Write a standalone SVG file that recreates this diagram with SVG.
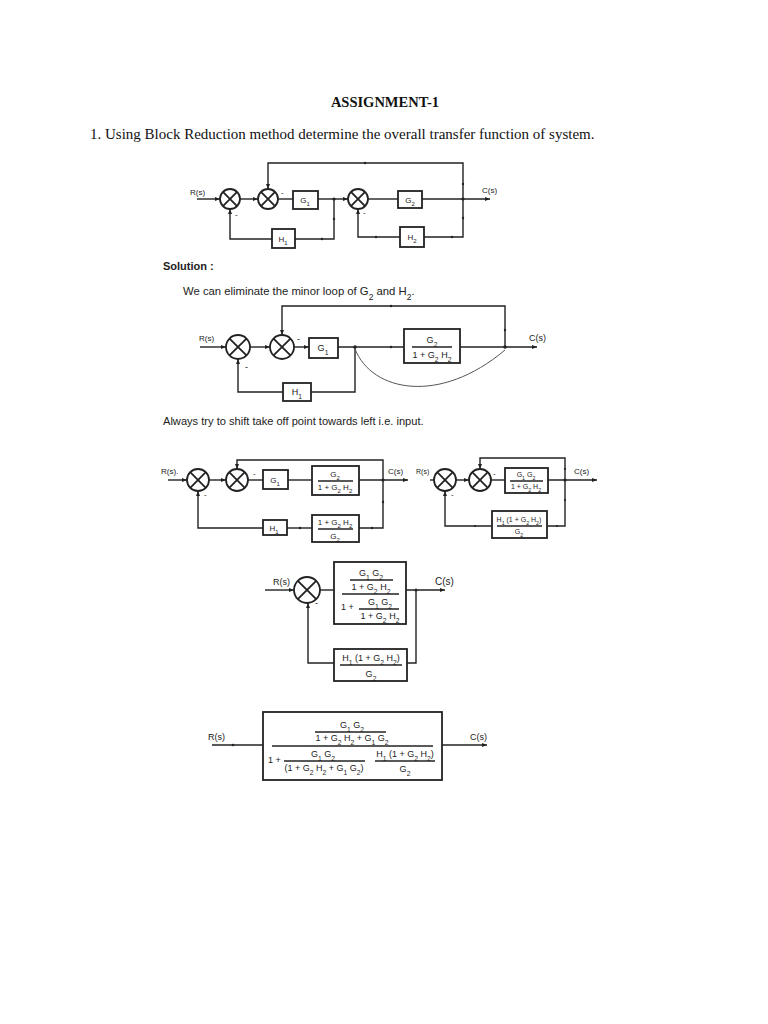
<svg xmlns="http://www.w3.org/2000/svg" width="768" height="1024" viewBox="0 0 768 1024">
<defs>
<marker id="ar" viewBox="0 0 10 10" refX="10" refY="5" markerWidth="5" markerHeight="5" markerUnits="userSpaceOnUse" orient="auto"><path d="M0,1 L10,5 L0,9 z" fill="#222"/></marker>
<g id="sx"><line x1="-0.7071" y1="-0.7071" x2="0.7071" y2="0.7071"/><line x1="-0.7071" y1="0.7071" x2="0.7071" y2="-0.7071"/></g>
</defs>
<style>
.ln{fill:none;stroke:#222;stroke-width:1.4}
.bx{fill:#fff;stroke:#222;stroke-width:1.8}
.sm{fill:#fff;stroke:#222;stroke-width:1.8}
.t{font-family:"Liberation Sans",Arial,sans-serif;fill:#222}
.d1{font-size:8px}
.d2{font-size:9px}
.c{text-anchor:middle}
.sb{font-size:75%;baseline-shift:sub}
.hd{font-family:"Liberation Serif","Times New Roman",serif;fill:#111}
.dot{fill:#222}
</style>
<rect width="768" height="1024" fill="#fff"/>

<g id="header">
<text class="hd" x="385" y="107" font-size="14.5" font-weight="bold" text-anchor="middle">ASSIGNMENT-1</text>
<text class="hd" x="90" y="139" font-size="15">1. Using Block Reduction method determine the overall transfer function of system.</text>
</g>

<!-- Diagram 1 -->
<g id="d1-connectors">
<line class="ln" x1="197" y1="199" x2="220" y2="199" marker-end="url(#ar)"/>
<line class="ln" x1="240" y1="199" x2="258" y2="199" marker-end="url(#ar)"/>
<line class="ln" x1="278" y1="199" x2="293" y2="199"/>
<line class="ln" x1="318" y1="199" x2="348" y2="199" marker-end="url(#ar)"/>
<line class="ln" x1="368" y1="199" x2="398" y2="199"/>
<line class="ln" x1="422" y1="199" x2="490" y2="199" marker-end="url(#ar)"/>
<polyline class="ln" points="463,199 463,163 268,163 268,189" marker-end="url(#ar)"/>
<polyline class="ln" points="334,199 334,239 295,239"/>
<polyline class="ln" points="272,239 230,239 230,209" marker-end="url(#ar)"/>
<polyline class="ln" points="463,199 463,237 424,237"/>
<polyline class="ln" points="400,237 358,237 358,209" marker-end="url(#ar)"/>
<circle class="dot" cx="334" cy="199" r="1.6"/><circle class="dot" cx="463" cy="199" r="1.6"/>
<circle class="dot" cx="365" cy="163" r="1.2"/><circle class="dot" cx="463" cy="184" r="1.2"/><circle class="dot" cx="463" cy="218" r="1.2"/>
<circle class="dot" cx="334" cy="219" r="1.2"/><circle class="dot" cx="322" cy="239" r="1.2"/><circle class="dot" cx="376" cy="237" r="1.2"/><circle class="dot" cx="452" cy="237" r="1.2"/>
</g>
<g id="d1-sum1"><circle class="sm" cx="230" cy="199" r="10"/><use href="#sx" transform="translate(230,199) scale(10)" stroke="#222" stroke-width="0.18"/></g>
<g id="d1-sum2"><circle class="sm" cx="268" cy="199" r="10"/><use href="#sx" transform="translate(268,199) scale(10)" stroke="#222" stroke-width="0.18"/></g>
<g id="d1-sum3"><circle class="sm" cx="358" cy="199" r="10"/><use href="#sx" transform="translate(358,199) scale(10)" stroke="#222" stroke-width="0.18"/></g>
<g id="d1-g1"><rect class="bx" x="293" y="191" width="25" height="18"/><text class="t d1 c" x="305" y="203">G<tspan class="sb">1</tspan></text></g>
<g id="d1-g2"><rect class="bx" x="398" y="191" width="24" height="17"/><text class="t d1 c" x="410" y="203">G<tspan class="sb">2</tspan></text></g>
<g id="d1-h1"><rect class="bx" x="272" y="229" width="23" height="19"/><text class="t d1 c" x="283" y="242">H<tspan class="sb">1</tspan></text></g>
<g id="d1-h2"><rect class="bx" x="400" y="227" width="24" height="20"/><text class="t d1 c" x="412" y="240">H<tspan class="sb">2</tspan></text></g>
<g id="d1-labels">
<text class="t d1" x="190" y="195" font-size="7">R(s)</text>
<text class="t d1" x="482" y="193" font-size="7">C(s)</text>
<text class="t d1" x="281" y="195">-</text>
<text class="t d1" x="235" y="217">-</text>
<text class="t d1" x="363" y="215">-</text>
</g>

<g id="text-solution">
<text class="t" x="163" y="270" font-size="11" font-weight="bold">Solution :</text>
<text class="t" x="183" y="295" font-size="11.3">We can eliminate the minor loop of G<tspan class="sb">2</tspan> and H<tspan class="sb">2</tspan>.</text>
</g>

<!-- Diagram 2 -->
<g id="d2-connectors">
<line class="ln" x1="200" y1="347" x2="226" y2="347" marker-end="url(#ar)"/>
<line class="ln" x1="250" y1="347" x2="270" y2="347" marker-end="url(#ar)"/>
<line class="ln" x1="294" y1="347" x2="309" y2="347" marker-end="url(#ar)"/>
<line class="ln" x1="338" y1="347" x2="404" y2="347"/>
<line class="ln" x1="460" y1="347" x2="537" y2="347" marker-end="url(#ar)"/>
<polyline class="ln" points="505,347 505,306 282,306 282,335" marker-end="url(#ar)"/>
<polyline class="ln" points="355,347 355,392 311,392"/>
<polyline class="ln" points="283,392 238,392 238,359" marker-end="url(#ar)"/>
<path d="M355,349 C372,392 440,405 505,350" fill="none" stroke="#555" stroke-width="1"/>
<circle class="dot" cx="355" cy="347" r="1.8"/><circle class="dot" cx="505" cy="347" r="1.8"/>
<circle class="dot" cx="391" cy="347" r="1.2"/><circle class="dot" cx="391" cy="306" r="1.2"/><circle class="dot" cx="505" cy="330" r="1.2"/>
</g>
<g id="d2-sum1"><circle class="sm" cx="238" cy="347" r="12"/><use href="#sx" transform="translate(238,347) scale(12)" stroke="#222" stroke-width="0.15"/></g>
<g id="d2-sum2"><circle class="sm" cx="282" cy="347" r="12"/><use href="#sx" transform="translate(282,347) scale(12)" stroke="#222" stroke-width="0.15"/></g>
<g id="d2-g1"><rect class="bx" x="309" y="338" width="29" height="20"/><text class="t d2 c" x="323" y="351">G<tspan class="sb">1</tspan></text></g>
<g id="d2-g2"><rect class="bx" x="404" y="329" width="56" height="34"/><text class="t d2 c" x="432" y="343">G<tspan class="sb">2</tspan></text><line class="ln" x1="412" y1="347" x2="452" y2="347" stroke-width="1"/><text class="t d2 c" x="432" y="358">1 + G<tspan class="sb">2</tspan> H<tspan class="sb">2</tspan></text></g>
<g id="d2-h1"><rect class="bx" x="283" y="383" width="28" height="18"/><text class="t d2 c" x="297" y="395">H<tspan class="sb">1</tspan></text></g>
<g id="d2-labels">
<text class="t" x="199" y="341" font-size="8">R(s)</text>
<text class="t" x="529" y="341" font-size="9">C(s)</text>
<text class="t d2" x="297" y="342">-</text>
<text class="t d2" x="245" y="370">-</text>
</g>

<g id="text-always"><text class="t" x="163" y="425" font-size="11.1">Always try to shift take off point towards left i.e. input.</text></g>

<!-- Diagram 3 left -->
<g id="d3l-connectors">
<line class="ln" x1="168" y1="480" x2="187" y2="480" marker-end="url(#ar)"/>
<line class="ln" x1="209" y1="480" x2="226" y2="480" marker-end="url(#ar)"/>
<line class="ln" x1="248" y1="480" x2="263" y2="480"/>
<line class="ln" x1="288" y1="480" x2="312" y2="480"/>
<line class="ln" x1="359" y1="480" x2="408" y2="480" marker-end="url(#ar)"/>
<polyline class="ln" points="383,480 383,460 237,460 237,469" marker-end="url(#ar)"/>
<polyline class="ln" points="383,480 383,528 359,528"/>
<line class="ln" x1="312" y1="528" x2="287" y2="528"/>
<polyline class="ln" points="263,528 198,528 198,491" marker-end="url(#ar)"/>
<circle class="dot" cx="383" cy="480" r="1.6"/><circle class="dot" cx="383" cy="502" r="1.2"/><circle class="dot" cx="372" cy="528" r="1.2"/><circle class="dot" cx="300" cy="528" r="1.2"/>
</g>
<g id="d3l-sum1"><circle class="sm" cx="198" cy="480" r="11"/><use href="#sx" transform="translate(198,480) scale(11)" stroke="#222" stroke-width="0.16"/></g>
<g id="d3l-sum2"><circle class="sm" cx="237" cy="480" r="11"/><use href="#sx" transform="translate(237,480) scale(11)" stroke="#222" stroke-width="0.16"/></g>
<g id="d3l-g1"><rect class="bx" x="263" y="470" width="25" height="19"/><text class="t d1 c" x="275" y="483">G<tspan class="sb">1</tspan></text></g>
<g id="d3l-g2"><rect class="bx" x="312" y="466" width="47" height="29"/><text class="t d1 c" x="335" y="477">G<tspan class="sb">2</tspan></text><line class="ln" x1="318" y1="481" x2="353" y2="481" stroke-width="0.9"/><text class="t d1 c" x="335" y="490">1 + G<tspan class="sb">2</tspan> H<tspan class="sb">2</tspan></text></g>
<g id="d3l-fb"><rect class="bx" x="312" y="515" width="47" height="27"/><text class="t d1 c" x="335" y="525">1 + G<tspan class="sb">2</tspan> H<tspan class="sb">2</tspan></text><line class="ln" x1="318" y1="529" x2="353" y2="529" stroke-width="0.9"/><text class="t d1 c" x="335" y="539">G<tspan class="sb">2</tspan></text></g>
<g id="d3l-h1"><rect class="bx" x="263" y="520" width="24" height="15"/><text class="t d1 c" x="274" y="531">H<tspan class="sb">1</tspan></text></g>
<g id="d3l-labels">
<text class="t d1" x="161" y="474">R(s).</text>
<text class="t d1" x="388" y="474">C(s)</text>
<text class="t d1" x="253" y="476">-</text>
<text class="t d1" x="204" y="497">-</text>
</g>

<!-- Diagram 3 right -->
<g id="d3r-connectors">
<line class="ln" x1="430" y1="480" x2="434" y2="480"/>
<line class="ln" x1="456" y1="480" x2="469" y2="480" marker-end="url(#ar)"/>
<line class="ln" x1="491" y1="480" x2="505" y2="480"/>
<line class="ln" x1="548" y1="480" x2="597" y2="480" marker-end="url(#ar)"/>
<polyline class="ln" points="565,480 565,458 480,458 480,469" marker-end="url(#ar)"/>
<polyline class="ln" points="565,480 565,526 547,526"/>
<polyline class="ln" points="492,526 445,526 445,491" marker-end="url(#ar)"/>
<circle class="dot" cx="565" cy="480" r="1.6"/><circle class="dot" cx="565" cy="469" r="1.1"/><circle class="dot" cx="565" cy="500" r="1.1"/><circle class="dot" cx="557" cy="526" r="1.1"/><circle class="dot" cx="475" cy="526" r="1.1"/>
</g>
<g id="d3r-sum1"><circle class="sm" cx="445" cy="480" r="11"/><use href="#sx" transform="translate(445,480) scale(11)" stroke="#222" stroke-width="0.16"/></g>
<g id="d3r-sum2"><circle class="sm" cx="480" cy="480" r="11"/><use href="#sx" transform="translate(480,480) scale(11)" stroke="#222" stroke-width="0.16"/></g>
<g id="d3r-g"><rect class="bx" x="505" y="468" width="43" height="25"/><text class="t c" font-size="7" x="526" y="477">G<tspan class="sb">1</tspan> G<tspan class="sb">2</tspan></text><line class="ln" x1="510" y1="481" x2="543" y2="481" stroke-width="0.9"/><text class="t c" font-size="7" x="526" y="489">1 + G<tspan class="sb">2</tspan> H<tspan class="sb">2</tspan></text></g>
<g id="d3r-fb"><rect class="bx" x="492" y="511" width="55" height="27"/><text class="t c" font-size="7" x="519" y="522">H<tspan class="sb">1</tspan> (1 + G<tspan class="sb">2</tspan> H<tspan class="sb">2</tspan>)</text><line class="ln" x1="497" y1="526" x2="542" y2="526" stroke-width="0.9"/><text class="t c" font-size="7" x="519" y="534">G<tspan class="sb">2</tspan></text></g>
<g id="d3r-labels">
<text class="t" font-size="7" x="416" y="474">R(s)</text>
<text class="t d1" x="574" y="474">C(s)</text>
<text class="t d1" x="493" y="476">-</text>
<text class="t d1" x="451" y="497">-</text>
</g>

<!-- Diagram 4 -->
<g id="d4-connectors">
<line class="ln" x1="265" y1="590" x2="294" y2="590" marker-end="url(#ar)"/>
<line class="ln" x1="320" y1="590" x2="334" y2="590"/>
<line class="ln" x1="406" y1="590" x2="445" y2="590" marker-end="url(#ar)"/>
<polyline class="ln" points="416,590 416,663 407,663"/>
<polyline class="ln" points="334,663 308,663 308,603" marker-end="url(#ar)"/>
<circle class="dot" cx="416" cy="590" r="1.5"/>
</g>
<g id="d4-sum"><circle class="sm" cx="307" cy="590" r="13"/><use href="#sx" transform="translate(307,590) scale(13)" stroke="#222" stroke-width="0.14"/></g>
<g id="d4-g"><rect class="bx" x="334" y="562" width="72" height="62"/>
<text class="t d2 c" x="371" y="576">G<tspan class="sb">1</tspan> G<tspan class="sb">2</tspan></text>
<line class="ln" x1="350" y1="580" x2="393" y2="580" stroke-width="1"/>
<text class="t d2 c" x="371" y="590">1 + G<tspan class="sb">2</tspan> H<tspan class="sb">2</tspan></text>
<line class="ln" x1="342" y1="594" x2="399" y2="594" stroke-width="1.2"/>
<text class="t d2" x="341" y="610">1 +</text>
<text class="t d2 c" x="380" y="605">G<tspan class="sb">1</tspan> G<tspan class="sb">2</tspan></text>
<line class="ln" x1="359" y1="609" x2="399" y2="609" stroke-width="1"/>
<text class="t d2 c" x="380" y="619">1 + G<tspan class="sb">2</tspan> H<tspan class="sb">2</tspan></text>
</g>
<g id="d4-fb"><rect class="bx" x="334" y="649" width="73" height="32"/><text class="t d2 c" x="371" y="661">H<tspan class="sb">1</tspan> (1 + G<tspan class="sb">2</tspan> H<tspan class="sb">2</tspan>)</text><line class="ln" x1="340" y1="665" x2="402" y2="665" stroke-width="1"/><text class="t d2 c" x="371" y="677">G<tspan class="sb">2</tspan></text></g>
<g id="d4-labels">
<text class="t" font-size="9" x="273" y="585">R(s)</text>
<text class="t" font-size="10" x="435" y="585">C(s)</text>
<text class="t d2" x="315" y="606">-</text>
</g>

<!-- Diagram 5 -->
<g id="d5-connectors">
<line class="ln" x1="212" y1="745" x2="263" y2="745"/>
<circle class="dot" cx="233" cy="745" r="1.3"/>
<line class="ln" x1="442" y1="745" x2="487" y2="745" marker-end="url(#ar)"/>
</g>
<g id="d5-box"><rect class="bx" x="263" y="712" width="179" height="68"/>
<text class="t d2 c" x="352" y="728">G<tspan class="sb">1</tspan> G<tspan class="sb">2</tspan></text>
<line class="ln" x1="315" y1="732" x2="386" y2="732" stroke-width="1"/>
<text class="t d2 c" x="352" y="741">1 + G<tspan class="sb">2</tspan> H<tspan class="sb">2</tspan> + G<tspan class="sb">1</tspan> G<tspan class="sb">2</tspan></text>
<line class="ln" x1="272" y1="746" x2="433" y2="746" stroke-width="1.2"/>
<text class="t d2" x="268" y="763">1 +</text>
<text class="t d2 c" x="323" y="757">G<tspan class="sb">1</tspan> G<tspan class="sb">2</tspan></text>
<line class="ln" x1="284" y1="761" x2="365" y2="761" stroke-width="1"/>
<text class="t d2 c" x="324" y="771">(1 + G<tspan class="sb">2</tspan> H<tspan class="sb">2</tspan> + G<tspan class="sb">1</tspan> G<tspan class="sb">2</tspan>)</text>
<text class="t d2 c" x="405" y="757">H<tspan class="sb">1</tspan> (1 + G<tspan class="sb">2</tspan> H<tspan class="sb">2</tspan>)</text>
<line class="ln" x1="375" y1="761" x2="435" y2="761" stroke-width="1"/>
<text class="t d2 c" x="405" y="772">G<tspan class="sb">2</tspan></text>
</g>
<g id="d5-labels">
<text class="t" font-size="9" x="208" y="740">R(s)</text>
<text class="t" font-size="9" x="470" y="740">C(s)</text>
</g>
</svg>
